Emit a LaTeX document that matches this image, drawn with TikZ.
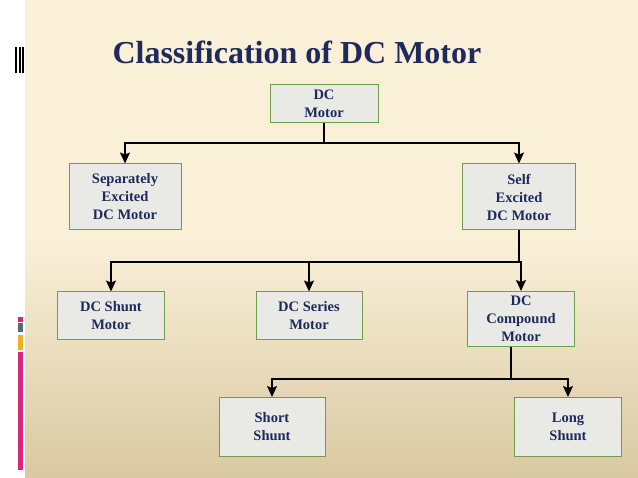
\documentclass[tikz,border=0pt]{standalone}
\usepackage{fontspec}
\setmainfont{Liberation Serif}
\usetikzlibrary{arrows.meta}
\definecolor{navy}{HTML}{1F2A5C}
\definecolor{bgtop}{HTML}{FAF0D8}
\definecolor{bgbot}{HTML}{D9C9A2}
\definecolor{boxfill}{HTML}{E9E9E6}
\definecolor{boxline}{HTML}{6E9E46}
\definecolor{dpink}{HTML}{D8267A}
\definecolor{dgrey}{HTML}{56687A}
\definecolor{dorange}{HTML}{F0B020}
\begin{document}
\begin{tikzpicture}[x=1pt,y=-1pt,
  mbox/.style={draw=boxline,line width=1pt,fill=boxfill,text=navy,font=\bfseries\fontsize{14.5}{18}\selectfont,align=center,inner sep=0pt},
  conn/.style={line width=1.5pt,black},
  arr/.style={conn,-{Stealth[length=11pt,width=10pt,inset=2pt]}}]
\useasboundingbox (0,0) rectangle (638,478);
\fill[white] (0,0) rectangle (638,478);
\fill[bgtop] (25,0) rectangle (638,240);
\shade[top color=bgtop,bottom color=bgbot] (25,240) rectangle (638,478);
% left decorations
\fill[black] (15,47) rectangle (17,73);
\fill[black] (18.5,47) rectangle (21,73);
\fill[black] (22,47) rectangle (24,73);
\fill[dpink] (18,317) rectangle (23,322);
\fill[dgrey] (18,323) rectangle (23,332);
\fill[dorange] (18,335) rectangle (23,350);
\fill[dpink] (18,352) rectangle (23,470);
\node[text=navy,font=\bfseries\fontsize{32}{36}\selectfont,anchor=west] (title) at (109,52) {Classification of DC Motor};
\node[mbox,minimum width=108,minimum height=38] (dc) at (324,104) {DC\\Motor};
\node[mbox,minimum width=112,minimum height=66] (sep) at (125,197) {Separately\\Excited\\DC Motor};
\node[mbox,minimum width=113,minimum height=66] (self) at (519,197) {Self\\Excited\\DC Motor};
\node[mbox,minimum width=107,minimum height=48] (shunt) at (111,316) {DC Shunt\\Motor};
\node[mbox,minimum width=106,minimum height=48] (series) at (309,316) {DC Series\\Motor};
\node[mbox,minimum width=107,minimum height=55] (comp) at (521,319) {DC\\Compound\\Motor};
\node[mbox,minimum width=106,minimum height=59] (short) at (272,427) {Short\\Shunt};
\node[mbox,minimum width=107,minimum height=59] (long) at (568,427) {Long\\Shunt};
\coordinate (j1) at (324,143);
\coordinate (j2) at (519,262);
\coordinate (j3) at (511,379);
\draw[conn] (dc.south) -- (j1);
\draw[arr] (j1) -| (sep.north);
\draw[arr] (j1) -| (self.north);
\draw[conn] (self.south) -- (j2);
\draw[arr] (j2) -| (shunt.north);
\draw[arr] (j2) -| (series.north);
\draw[arr] (j2) -| (comp.north);
\draw[conn] (comp.south -| j3) -- (j3);
\draw[arr] (j3) -| (short.north);
\draw[arr] (j3) -| (long.north);
\end{tikzpicture}
\end{document}
